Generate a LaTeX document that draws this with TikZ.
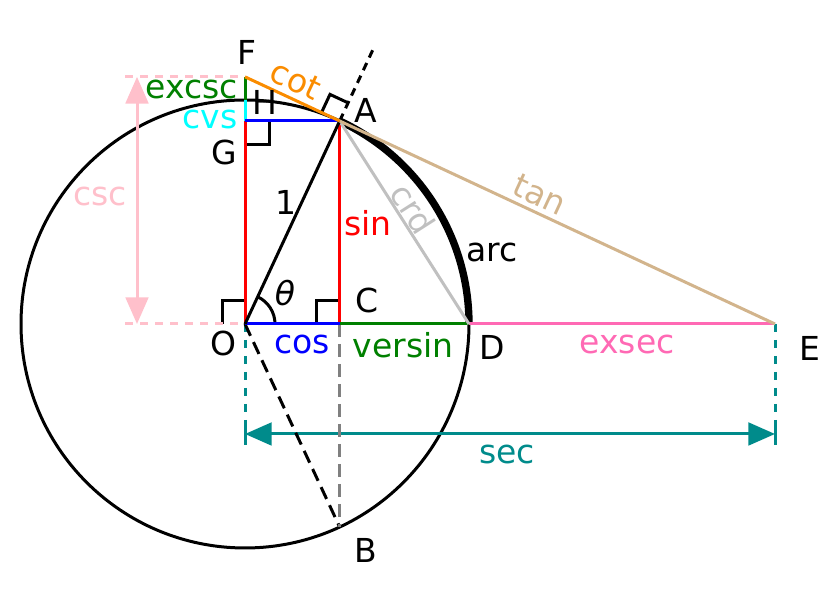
\documentclass[tikz,border=0pt]{standalone}
\usepackage{fontspec}
\setmainfont{DejaVu Sans}
\usetikzlibrary{arrows.meta,calc}
\definecolor{cotorange}{RGB}{250,140,0}
\definecolor{tancol}{RGB}{210,180,140}
\definecolor{crdgray}{RGB}{192,192,192}
\definecolor{cscpink}{RGB}{255,192,203}
\definecolor{exsecpink}{RGB}{255,105,180}
\definecolor{secteal}{RGB}{0,139,139}
\definecolor{dgreen}{RGB}{0,128,0}
\definecolor{cvscyan}{RGB}{0,255,255}
\definecolor{pured}{RGB}{255,0,0}
\definecolor{pureblue}{RGB}{0,0,255}
\definecolor{midgray}{RGB}{128,128,128}
\begin{document}
\begin{tikzpicture}[x=0.75pt,y=0.75pt,line width=2.25pt,
  lbl/.style={inner sep=0pt,font=\fontsize{24.75}{30}\selectfont},
  blackdash/.style={dash pattern=on 9.75pt off 5.25pt},
  graydash/.style={midgray,dash pattern=on 9.75pt off 5.25pt},
  topdot/.style={dash pattern=on 6pt off 4.5pt},
  tealdash/.style={secteal,dash pattern=on 6pt off 6pt},
  pinkdash/.style={cscpink,dash pattern=on 6pt off 5.25pt},
  dimtips/.style={{Triangle[length=20pt,width=17pt]}-{Triangle[length=20pt,width=17pt]}}]
\useasboundingbox (0,0) rectangle (840,591);
% points
\coordinate (O) at (245,267);
\coordinate (A) at ($(O)+(65:224)$);
\coordinate (C) at (A |- O);
\coordinate (D) at ($(O)+(224,0)$);
\coordinate (E) at ($(O)+({224/cos(65)},0)$);
\coordinate (F) at ($(O)+(0,{224/sin(65)})$);
\coordinate (H) at (O |- A);
\coordinate (T) at ($(O)+(0,224)$);
\coordinate (B) at ($(O)+(-65:224)$);
\coordinate (P) at ($(O)+(65:302)$);
% dimension helper points
\coordinate (S1) at (245,157);
\coordinate (S2) at (E |- S1);
\coordinate (S1b) at (245,146);
\coordinate (S2b) at (E |- S1b);
\coordinate (K1) at (137,0 |- F);
\coordinate (K2) at (137,0 |- O);
\coordinate (L1) at (125,0 |- F);
\coordinate (L2) at (125,0 |- O);
% circle and arc
\draw (O) circle[radius=224];
\draw[line width=5.5pt] (D) arc[start angle=0,end angle=65,radius=224];
\draw ($(O)+(30,0)$) arc[start angle=0,end angle=65,radius=30];
% right angle marks
\draw ($(O)+(-23,0)$) -- ++(0,23) -- ++(23,0);
\draw ($(C)+(-23,0)$) -- ++(0,23) -- ++(23,0);
\draw ($(H)+(0,-24)$) -- ++(24,0) -- ++(0,24);
\draw ($(A)+(155:20)$) -- ++(65:20) -- ++(-25:20);
% csc dimension
\draw[pinkdash] (L1) -- (F);
\draw[pinkdash] (L2) -- (O);
\draw[cscpink,dimtips] (K1) -- (K2);
% sec dimension
\draw[tealdash] (O) -- (S1b);
\draw[tealdash] (E) -- (S2b);
\draw[secteal,dimtips] (S1) -- (S2);
\draw[secteal] ($(S1)+(0,11)$) -- ($(S1)+(0,-11)$);
\draw[secteal] ($(S2)+(0,11)$) -- ($(S2)+(0,-11)$);
% construction
\draw[blackdash] (O) -- (B);
\draw[graydash] (C) -- (B);
\draw[topdot] (A) -- (P);
% segments
\draw[dgreen] (F) -- (T);
\draw[cvscyan] (T) -- (H);
\draw[pured] (H) -- (O);
\draw[pureblue] (H) -- (A);
\draw[pured] (A) -- (C);
\draw[pureblue] (O) -- (C);
\draw[dgreen] (C) -- (D);
\draw[exsecpink] (D) -- (E);
\draw[crdgray] (A) -- (D);
\draw (O) -- (A);
\draw[tancol] (A) -- (E);
\draw[cotorange] (F) -- (A);
% labels
\node[lbl] (lF) at (247,539) {F};
\node[lbl] (lH) at (265,489) {H};
\node[lbl] (lA) at (366,481) {A};
\node[lbl] (lG) at (224,439) {G};
\node[lbl] (l1) at (286,389) {1};
\node[lbl,text=pured] (lsin) at (368,368) {sin};
\node[lbl,text=crdgray,rotate=-57.4] (lcrd) at (413,382) {crd};
\node[lbl,text=tancol,rotate=-24.9] (ltan) at (540,396) {tan};
\node[lbl,text=cotorange,rotate=-25.3] (lcot) at (296,511) {cot};
\node[lbl] (larc) at (492,338) {arc};
\node[lbl] (lth) at (285,298) {\itshape θ};
\node[lbl] (lC) at (367,291) {C};
\node[lbl] (lO) at (223,248) {O};
\node[lbl,text=pureblue] (lcos) at (302,246) {cos};
\node[lbl,text=dgreen] (lversin) at (403,246) {versin};
\node[lbl] (lD) at (492,244) {D};
\node[lbl,text=exsecpink] (lexsec) at (627,246) {exsec};
\node[lbl] (lE) at (810,243) {E};
\node[lbl,text=secteal] (lsec) at (507,136) {sec};
\node[lbl] (lB) at (366,41) {B};
\node[lbl,text=cscpink] (lcsc) at (100,394) {csc};
\node[lbl,text=dgreen] (lexcsc) at (192,501) {excsc};
\node[lbl,text=cvscyan] (lcvs) at (210,471) {cvs};
\end{tikzpicture}
\end{document}
